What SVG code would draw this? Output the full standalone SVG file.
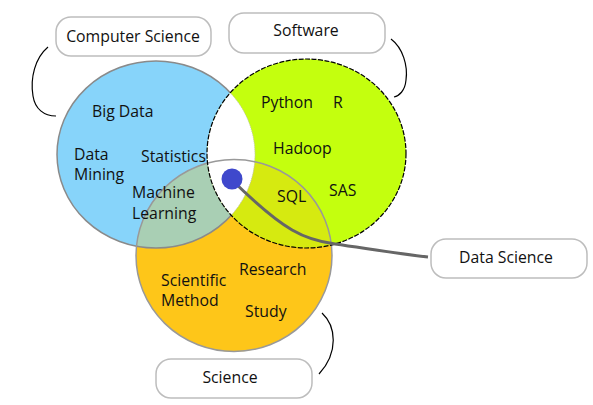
<svg xmlns="http://www.w3.org/2000/svg" width="593" height="405" viewBox="0 0 593 405">
<style>
text{font-family:"Open Sans","Noto Sans","DejaVu Sans",sans-serif;font-size:15.8px;fill:#111}
.box{fill:#fff;stroke:#bdbdbd;stroke-width:1.5}
.lbl{text-anchor:middle}
.br{fill:none;stroke:#000;stroke-width:1.2}
</style>
<defs>
<ellipse id="eb" cx="156" cy="154.5" rx="99" ry="93.5"/>
<ellipse id="eg" cx="306.5" cy="153.5" rx="99.5" ry="94.5"/>
<ellipse id="eo" cx="234" cy="255.5" rx="98" ry="96"/>
<clipPath id="cb"><use href="#eb"/></clipPath>
<clipPath id="cg"><use href="#eg"/></clipPath>
<clipPath id="co"><use href="#eo"/></clipPath>
<mask id="notg"><rect width="593" height="405" fill="#fff"/><use href="#eg" fill="#000"/></mask>
</defs>
<g id="venn">
<use href="#eb" fill="#87d4fa"/>
<use href="#eg" fill="#c4ff0e"/>
<use href="#eo" fill="#fec619"/>
<g clip-path="url(#co)">
<use href="#eb" fill="#a9cfb4"/>
<use href="#eg" fill="#d6ea10"/>
</g>
<g clip-path="url(#cb)"><use href="#eg" fill="#fff"/></g>
<use href="#eb" fill="none" stroke="#8a8a8a" stroke-width="1.5" mask="url(#notg)"/>
<g clip-path="url(#cg)"><use href="#eb" fill="none" stroke="#bbb" stroke-width="1" stroke-dasharray="1 1"/></g>
<use href="#eo" fill="none" stroke="#999" stroke-width="1.5"/>
<use href="#eg" fill="none" stroke="#000" stroke-width="1.2" stroke-dasharray="5 1.5"/>
</g>
<g id="cs-set-labels">
<text x="92" y="117">Big Data</text>
<text x="74" y="160">Data<tspan x="74" y="180">Mining</tspan></text>
<text x="141" y="162">Statistics</text>
<text x="132" y="198">Machine</text>
<text x="132" y="219">Learning</text>
</g>
<g id="sw-set-labels">
<text x="261" y="108">Python</text>
<text x="333" y="108">R</text>
<text x="273" y="154">Hadoop</text>
<text x="277" y="202">SQL</text>
<text x="329" y="196">SAS</text>
</g>
<g id="sci-set-labels">
<text x="239" y="275">Research</text>
<text x="161" y="286">Scientific<tspan x="161" y="306">Method</tspan></text>
<text x="245" y="317">Study</text>
</g>
<g id="connectors">
<path d="M232,180 C285,232 305,240 335,244 C370,249 400,254 428,257" fill="none" stroke="#666" stroke-width="3"/>
<path class="br" d="M48,47 C35,58 30,78 33,96 C35,109 44,116 56,116"/>
<path class="br" d="M391,39 C403,48 408,66 406,80 C405,91 399,96 394,97"/>
<path class="br" d="M322,313 C336,326 339,352 319,374" stroke-width="2.5"/>
</g>
<g id="dot"><circle cx="232" cy="179" r="10.5" fill="#3f48cc"/></g>
<g id="computer-science"><rect class="box" x="56" y="17" width="155" height="39" rx="15"/><text class="lbl" x="133" y="42">Computer Science</text></g>
<g id="software"><rect class="box" x="229" y="13" width="156" height="40" rx="15"/><text class="lbl" x="306" y="36">Software</text></g>
<g id="data-science"><rect class="box" x="431" y="239" width="156" height="39" rx="15"/><text class="lbl" x="506" y="263">Data Science</text></g>
<g id="science"><rect class="box" x="156" y="359" width="156" height="39" rx="15"/><text class="lbl" x="230" y="383">Science</text></g>
</svg>
